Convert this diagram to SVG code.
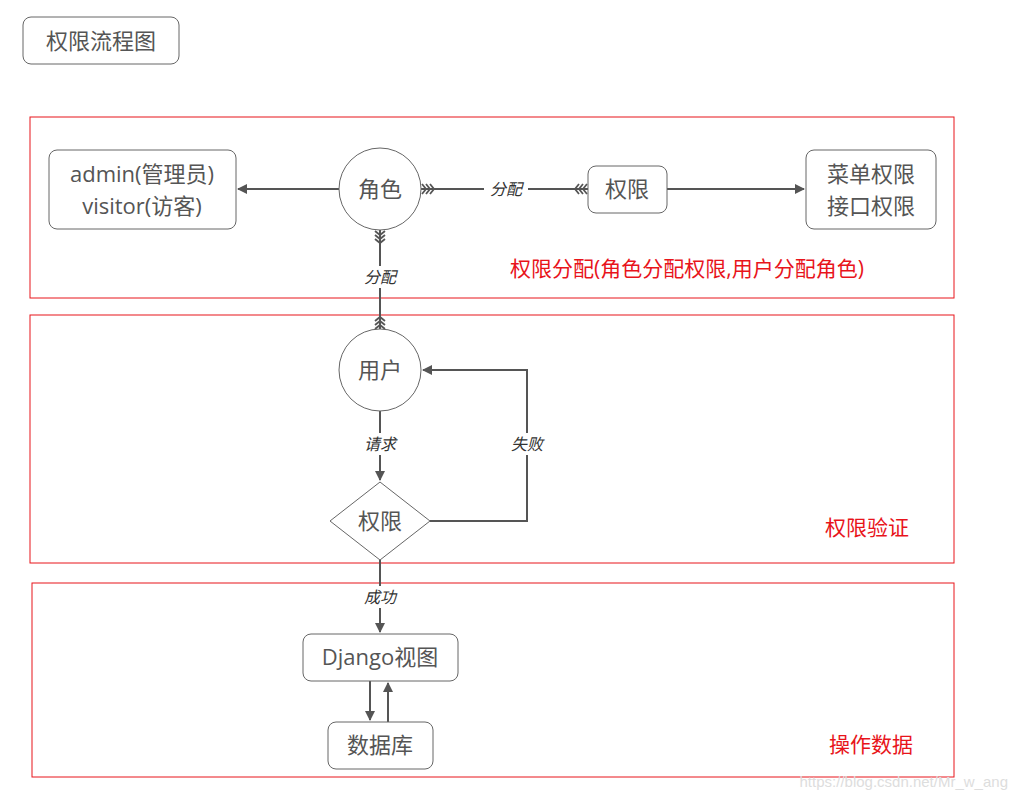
<svg xmlns="http://www.w3.org/2000/svg" width="1017" height="800" viewBox="0 0 1017 800">
<style>
.box{fill:#fff;stroke:#666;stroke-width:1}
.red{fill:none;stroke:#e8141b;stroke-width:1}
.t{font-family:"Open Sans","Noto Sans CJK SC",sans-serif;font-size:22px;fill:#555;text-anchor:middle}
.rt{font-family:"Open Sans","Noto Sans CJK SC",sans-serif;font-size:21px;fill:#e8141b}
.lb{font-family:"Open Sans","Noto Sans CJK SC",sans-serif;font-size:16px;font-style:italic;fill:#333;text-anchor:middle}
.ln{fill:none;stroke:#555;stroke-width:2}
.cf{fill:none;stroke:#555;stroke-width:1.8}
</style>
<defs>
<marker id="a" viewBox="0 0 10 10" refX="9" refY="5" markerWidth="5" markerHeight="5" orient="auto"><path d="M0,0 L10,5 L0,10 z" fill="#555"/></marker>
</defs>
<rect x="0" y="0" width="1017" height="800" fill="#fff"/>
<g id="title"><rect class="box" x="23" y="17" width="156" height="47" rx="8"/><text class="t" x="101" y="49">权限流程图</text></g>
<g id="zones">
<rect class="red" x="30" y="117" width="924" height="181"/>
<rect class="red" x="30" y="315" width="924" height="248"/>
<rect class="red" x="32" y="583" width="922" height="194"/>
<text class="rt" x="510" y="276">权限分配(角色分配权限,用户分配角色)</text>
<text class="rt" x="825" y="535">权限验证</text>
<text class="rt" x="829" y="752">操作数据</text>
</g>
<g id="connectors">
<line class="ln" x1="339" y1="189" x2="238" y2="189" marker-end="url(#a)"/>
<line class="ln" x1="421" y1="189" x2="588" y2="189"/>
<line class="ln" x1="667" y1="189" x2="804" y2="189" marker-end="url(#a)"/>
<line class="ln" x1="380" y1="230" x2="380" y2="329"/>
<line class="ln" x1="380" y1="411" x2="380" y2="480" marker-end="url(#a)"/>
<polyline class="ln" points="430,521 527,521 527,370 423,370" marker-end="url(#a)"/>
<line class="ln" x1="380" y1="560" x2="380" y2="632" marker-end="url(#a)"/>
<line class="ln" x1="370" y1="681" x2="370" y2="720" marker-end="url(#a)"/>
<line class="ln" x1="388" y1="722" x2="388" y2="683" marker-end="url(#a)"/>
<path class="cf" d="M422,184 L426,189 L422,194 M426,184 L430,189 L426,194 M430,184 L434,189 L430,194"/>
<path class="cf" d="M587,184 L583,189 L587,194 M583,184 L579,189 L583,194 M579,184 L575,189 L579,194"/>
<path class="cf" d="M375,231 L380,235 L385,231 M375,235 L380,239 L385,235 M375,239 L380,243 L385,239"/>
<path class="cf" d="M375,329 L380,325 L385,329 M375,325 L380,321 L385,325 M375,321 L380,317 L385,321"/>
<rect x="484" y="178" width="44" height="22" fill="#fff"/><text class="lb" x="506" y="195">分配</text>
<rect x="358" y="266" width="44" height="22" fill="#fff"/><text class="lb" x="380" y="283">分配</text>
<rect x="358" y="433" width="44" height="22" fill="#fff"/><text class="lb" x="380" y="450">请求</text>
<rect x="505" y="433" width="44" height="22" fill="#fff"/><text class="lb" x="527" y="450">失败</text>
<rect x="358" y="586" width="44" height="22" fill="#fff"/><text class="lb" x="380" y="603">成功</text>
</g>
<g id="admin"><rect class="box" x="49" y="150" width="187" height="79" rx="8"/><text class="t" x="142" y="182">admin(管理员)</text><text class="t" x="142" y="214">visitor(访客)</text></g>
<g id="role"><circle class="box" cx="380" cy="189" r="41"/><text class="t" x="380" y="197">角色</text></g>
<g id="perm"><rect class="box" x="588" y="166" width="79" height="47" rx="8"/><text class="t" x="627" y="197">权限</text></g>
<g id="menu"><rect class="box" x="806" y="150" width="130" height="79" rx="8"/><text class="t" x="871" y="182">菜单权限</text><text class="t" x="871" y="214">接口权限</text></g>
<g id="user"><circle class="box" cx="380" cy="370" r="41"/><text class="t" x="380" y="378">用户</text></g>
<g id="check"><polygon class="box" points="380,482 430,521 380,560 330,521"/><text class="t" x="380" y="529">权限</text></g>
<g id="django"><rect class="box" x="303" y="634" width="155" height="47" rx="8"/><text class="t" x="380" y="665">Django视图</text></g>
<g id="db"><rect class="box" x="328" y="722" width="105" height="47" rx="8"/><text class="t" x="380" y="753">数据库</text></g>
<text x="1008" y="787" font-family="Liberation Sans,sans-serif" font-size="15" fill="#ddd" text-anchor="end">https://blog.csdn.net/Mr_w_ang</text>
</svg>
